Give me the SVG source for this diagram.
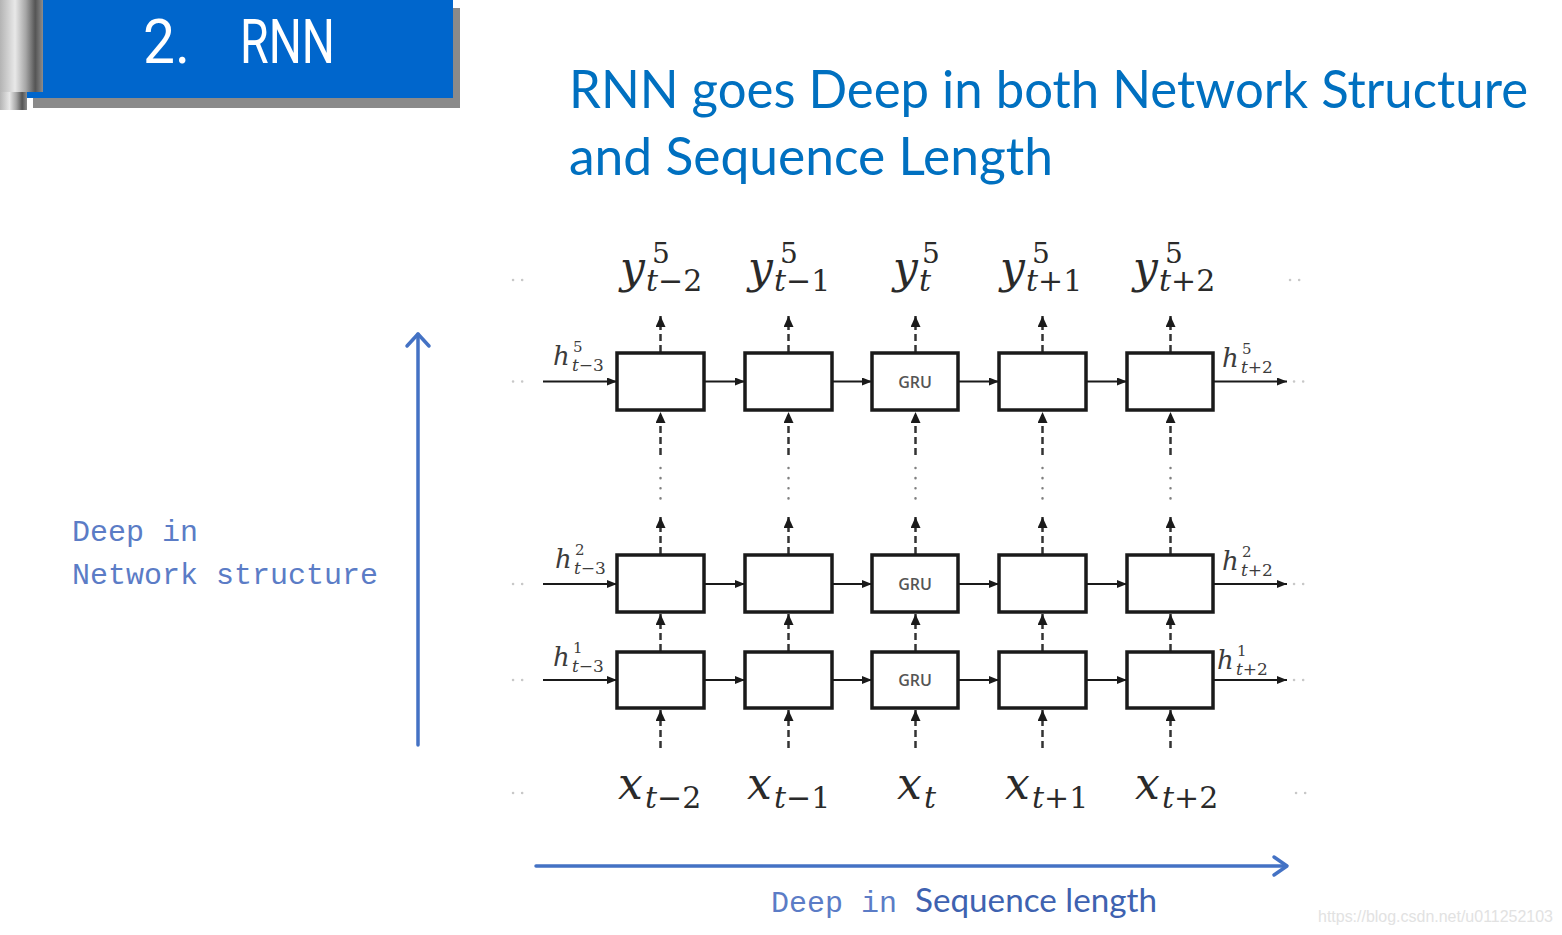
<svg xmlns="http://www.w3.org/2000/svg" width="1562" height="935" viewBox="0 0 1562 935">
<defs>
<linearGradient id="scroll" x1="0" x2="1" y1="0" y2="0">
<stop offset="0" stop-color="#b4b4b4"/>
<stop offset="0.35" stop-color="#e8e8e8"/>
<stop offset="0.6" stop-color="#a6a6a6"/>
<stop offset="0.82" stop-color="#555"/>
<stop offset="1" stop-color="#8c8c8c"/>
</linearGradient>
<marker id="ah" viewBox="0 0 10 8" refX="10" refY="4" markerWidth="10" markerHeight="8" markerUnits="userSpaceOnUse" orient="auto"><path d="M0,0 L10,4 L0,8 z" fill="#1a1a1a"/></marker>
<marker id="av" viewBox="0 0 11 10" refX="11" refY="5" markerWidth="11" markerHeight="10" markerUnits="userSpaceOnUse" orient="auto"><path d="M0,0 L11,5 L0,10 z" fill="#1a1a1a"/></marker>
</defs>
<style>
.box{fill:#fff;stroke:#1a1a1a;stroke-width:3.5}
.h{stroke:#1a1a1a;stroke-width:2;fill:none;marker-end:url(#ah)}
.v{stroke:#333;stroke-width:2.5;stroke-dasharray:7 4;fill:none;marker-end:url(#av)}
.dot{stroke:#808080;stroke-width:2.5;stroke-linecap:round;stroke-dasharray:0.1 10;fill:none}
.ell{stroke:#c8c8c8;stroke-width:2.5;stroke-linecap:round;stroke-dasharray:0.1 9;fill:none}
.m{font-family:"DejaVu Serif",serif;fill:#2a2a2a}
.hl{font-family:"DejaVu Serif",serif;fill:#3c3c3c}
.it{font-style:italic}
.gru{font-family:"Open Sans",sans-serif;font-size:16px;fill:#555;text-anchor:middle;font-weight:600}
.blue{stroke:#4472c4;stroke-width:3.5;fill:none;stroke-linecap:round;stroke-linejoin:round}
.title{font-family:Lato,"Open Sans",sans-serif;font-size:52px;fill:#0070c0}
.mono{font-family:"Liberation Mono",monospace;font-size:30px;fill:#5b7cc6}
</style>

<g id="header">
<rect x="33" y="8" width="427" height="100" fill="#8a8a8a"/>
<rect x="43" y="0" width="410" height="98" fill="#0066cc"/>
<rect x="27" y="90" width="20" height="8" fill="#0066cc"/>
<rect x="0" y="0" width="43" height="92" fill="url(#scroll)"/>
<rect x="0" y="92" width="27" height="18" fill="url(#scroll)"/>
<text x="143" y="63" font-family="Roboto,sans-serif" font-size="62" fill="#fff" textLength="47" lengthAdjust="spacingAndGlyphs">2.</text>
<text x="240" y="63" font-family="Roboto,sans-serif" font-size="62" fill="#fff" textLength="95" lengthAdjust="spacingAndGlyphs">RNN</text>
</g>

<g id="title">
<text class="title" x="569" y="108" textLength="959" lengthAdjust="spacingAndGlyphs">RNN goes Deep in both Network Structure</text>
<text class="title" x="569" y="175" textLength="484" lengthAdjust="spacingAndGlyphs">and Sequence Length</text>
</g>

<g id="axis-network">
<line class="blue" x1="418" y1="745" x2="418" y2="334"/>
<polyline class="blue" points="407,346 418,334 429,346"/>
<text class="mono" x="72" y="541">Deep in</text>
<text class="mono" x="72" y="584">Network structure</text>
</g>

<g id="axis-sequence">
<line class="blue" x1="536" y1="866" x2="1286" y2="866"/>
<polyline class="blue" points="1274,857 1287,866 1274,875"/>
<text class="mono" x="771" y="912" fill="#6f8bcc">Deep in</text>
<text x="915" y="912" font-family="Lato,'Open Sans',sans-serif" font-size="32" fill="#3e62b0" textLength="242" lengthAdjust="spacingAndGlyphs">Sequence length</text>
</g>

<g id="connectors">
<!-- horizontal row 5 -->
<line class="h" x1="543" y1="381.5" x2="617" y2="381.5"/>
<line class="h" x1="704" y1="381.5" x2="745" y2="381.5"/>
<line class="h" x1="832" y1="381.5" x2="872" y2="381.5"/>
<line class="h" x1="958" y1="381.5" x2="999" y2="381.5"/>
<line class="h" x1="1086" y1="381.5" x2="1127" y2="381.5"/>
<line class="h" x1="1213" y1="381.5" x2="1287" y2="381.5"/>
<!-- row 2 -->
<line class="h" x1="543" y1="584" x2="617" y2="584"/>
<line class="h" x1="704" y1="584" x2="745" y2="584"/>
<line class="h" x1="832" y1="584" x2="872" y2="584"/>
<line class="h" x1="958" y1="584" x2="999" y2="584"/>
<line class="h" x1="1086" y1="584" x2="1127" y2="584"/>
<line class="h" x1="1213" y1="584" x2="1287" y2="584"/>
<!-- row 1 -->
<line class="h" x1="543" y1="680" x2="617" y2="680"/>
<line class="h" x1="704" y1="680" x2="745" y2="680"/>
<line class="h" x1="832" y1="680" x2="872" y2="680"/>
<line class="h" x1="958" y1="680" x2="999" y2="680"/>
<line class="h" x1="1086" y1="680" x2="1127" y2="680"/>
<line class="h" x1="1213" y1="680" x2="1287" y2="680"/>
<!-- vertical, per column -->
<g id="vcol1">
<line class="v" x1="660.5" y1="352" x2="660.5" y2="316"/>
<line class="v" x1="660.5" y1="455" x2="660.5" y2="412"/>
<line class="dot" x1="660.5" y1="468" x2="660.5" y2="500"/>
<line class="v" x1="660.5" y1="554" x2="660.5" y2="517"/>
<line class="v" x1="660.5" y1="651" x2="660.5" y2="614"/>
<line class="v" x1="660.5" y1="748" x2="660.5" y2="710"/>
</g>
<g id="vcol2">
<line class="v" x1="788.5" y1="352" x2="788.5" y2="316"/>
<line class="v" x1="788.5" y1="455" x2="788.5" y2="412"/>
<line class="dot" x1="788.5" y1="468" x2="788.5" y2="500"/>
<line class="v" x1="788.5" y1="554" x2="788.5" y2="517"/>
<line class="v" x1="788.5" y1="651" x2="788.5" y2="614"/>
<line class="v" x1="788.5" y1="748" x2="788.5" y2="710"/>
</g>
<g id="vcol3">
<line class="v" x1="915.5" y1="352" x2="915.5" y2="316"/>
<line class="v" x1="915.5" y1="455" x2="915.5" y2="412"/>
<line class="dot" x1="915.5" y1="468" x2="915.5" y2="500"/>
<line class="v" x1="915.5" y1="554" x2="915.5" y2="517"/>
<line class="v" x1="915.5" y1="651" x2="915.5" y2="614"/>
<line class="v" x1="915.5" y1="748" x2="915.5" y2="710"/>
</g>
<g id="vcol4">
<line class="v" x1="1042.5" y1="352" x2="1042.5" y2="316"/>
<line class="v" x1="1042.5" y1="455" x2="1042.5" y2="412"/>
<line class="dot" x1="1042.5" y1="468" x2="1042.5" y2="500"/>
<line class="v" x1="1042.5" y1="554" x2="1042.5" y2="517"/>
<line class="v" x1="1042.5" y1="651" x2="1042.5" y2="614"/>
<line class="v" x1="1042.5" y1="748" x2="1042.5" y2="710"/>
</g>
<g id="vcol5">
<line class="v" x1="1170.5" y1="352" x2="1170.5" y2="316"/>
<line class="v" x1="1170.5" y1="455" x2="1170.5" y2="412"/>
<line class="dot" x1="1170.5" y1="468" x2="1170.5" y2="500"/>
<line class="v" x1="1170.5" y1="554" x2="1170.5" y2="517"/>
<line class="v" x1="1170.5" y1="651" x2="1170.5" y2="614"/>
<line class="v" x1="1170.5" y1="748" x2="1170.5" y2="710"/>
</g>
<!-- ellipses -->
<line class="ell" x1="513" y1="280" x2="531" y2="280"/>
<line class="ell" x1="513" y1="381.5" x2="531" y2="381.5"/>
<line class="ell" x1="513" y1="584" x2="531" y2="584"/>
<line class="ell" x1="513" y1="680" x2="531" y2="680"/>
<line class="ell" x1="513" y1="793" x2="531" y2="793"/>
<line class="ell" x1="1290" y1="280" x2="1308" y2="280"/>
<line class="ell" x1="1294" y1="381.5" x2="1312" y2="381.5"/>
<line class="ell" x1="1294" y1="584" x2="1312" y2="584"/>
<line class="ell" x1="1294" y1="680" x2="1312" y2="680"/>
<line class="ell" x1="1296" y1="793" x2="1314" y2="793"/>
</g>

<g id="row5">
<g id="n5-1"><rect class="box" x="617" y="353" width="87" height="57"/></g>
<g id="n5-2"><rect class="box" x="745" y="353" width="87" height="57"/></g>
<g id="n5-3"><rect class="box" x="872" y="353" width="86" height="57"/><text class="gru" x="915" y="387.5">GRU</text></g>
<g id="n5-4"><rect class="box" x="999" y="353" width="87" height="57"/></g>
<g id="n5-5"><rect class="box" x="1127" y="353" width="86" height="57"/></g>
</g>
<g id="row2">
<g id="n2-1"><rect class="box" x="617" y="555" width="87" height="57"/></g>
<g id="n2-2"><rect class="box" x="745" y="555" width="87" height="57"/></g>
<g id="n2-3"><rect class="box" x="872" y="555" width="86" height="57"/><text class="gru" x="915" y="590">GRU</text></g>
<g id="n2-4"><rect class="box" x="999" y="555" width="87" height="57"/></g>
<g id="n2-5"><rect class="box" x="1127" y="555" width="86" height="57"/></g>
</g>
<g id="row1">
<g id="n1-1"><rect class="box" x="617" y="652" width="87" height="56"/></g>
<g id="n1-2"><rect class="box" x="745" y="652" width="87" height="56"/></g>
<g id="n1-3"><rect class="box" x="872" y="652" width="86" height="56"/><text class="gru" x="915" y="686">GRU</text></g>
<g id="n1-4"><rect class="box" x="999" y="652" width="87" height="56"/></g>
<g id="n1-5"><rect class="box" x="1127" y="652" width="86" height="56"/></g>
</g>

<g id="h-labels">
<text class="hl" font-size="26"><tspan x="553" y="365" class="it">h</tspan><tspan x="573" y="352" font-size="15">5</tspan><tspan x="572" y="371" font-size="17" class="it">t</tspan><tspan font-size="17">−3</tspan></text>
<text class="hl" font-size="26"><tspan x="555" y="568" class="it">h</tspan><tspan x="575" y="555" font-size="15">2</tspan><tspan x="574" y="574" font-size="17" class="it">t</tspan><tspan font-size="17">−3</tspan></text>
<text class="hl" font-size="26"><tspan x="553" y="666" class="it">h</tspan><tspan x="573" y="653" font-size="15">1</tspan><tspan x="572" y="672" font-size="17" class="it">t</tspan><tspan font-size="17">−3</tspan></text>
<text class="hl" font-size="26"><tspan x="1222" y="367" class="it">h</tspan><tspan x="1242" y="354" font-size="15">5</tspan><tspan x="1241" y="373" font-size="17" class="it">t</tspan><tspan font-size="17">+2</tspan></text>
<text class="hl" font-size="26"><tspan x="1222" y="570" class="it">h</tspan><tspan x="1242" y="557" font-size="15">2</tspan><tspan x="1241" y="576" font-size="17" class="it">t</tspan><tspan font-size="17">+2</tspan></text>
<text class="hl" font-size="26"><tspan x="1217" y="669" class="it">h</tspan><tspan x="1237" y="656" font-size="15">1</tspan><tspan x="1236" y="675" font-size="17" class="it">t</tspan><tspan font-size="17">+2</tspan></text>
</g>

<g id="y-labels">
<text class="m" font-size="44"><tspan x="620" y="283" class="it">y</tspan><tspan x="652" y="263" font-size="28">5</tspan><tspan x="646" y="291" font-size="30" class="it">t</tspan><tspan font-size="30">−2</tspan></text>
<text class="m" font-size="44"><tspan x="748" y="283" class="it">y</tspan><tspan x="780" y="263" font-size="28">5</tspan><tspan x="774" y="291" font-size="30" class="it">t</tspan><tspan font-size="30">−1</tspan></text>
<text class="m" font-size="44"><tspan x="893" y="283" class="it">y</tspan><tspan x="922" y="263" font-size="28">5</tspan><tspan x="919" y="291" font-size="30" class="it">t</tspan></text>
<text class="m" font-size="44"><tspan x="1000" y="283" class="it">y</tspan><tspan x="1032" y="263" font-size="28">5</tspan><tspan x="1026" y="291" font-size="30" class="it">t</tspan><tspan font-size="30">+1</tspan></text>
<text class="m" font-size="44"><tspan x="1133" y="283" class="it">y</tspan><tspan x="1165" y="263" font-size="28">5</tspan><tspan x="1159" y="291" font-size="30" class="it">t</tspan><tspan font-size="30">+2</tspan></text>
</g>

<g id="x-labels">
<text class="m" font-size="44"><tspan x="618" y="799" class="it">x</tspan><tspan x="645" y="808" font-size="30" class="it">t</tspan><tspan font-size="30">−2</tspan></text>
<text class="m" font-size="44"><tspan x="747" y="799" class="it">x</tspan><tspan x="774" y="808" font-size="30" class="it">t</tspan><tspan font-size="30">−1</tspan></text>
<text class="m" font-size="44"><tspan x="897" y="799" class="it">x</tspan><tspan x="924" y="808" font-size="30" class="it">t</tspan></text>
<text class="m" font-size="44"><tspan x="1005" y="799" class="it">x</tspan><tspan x="1032" y="808" font-size="30" class="it">t</tspan><tspan font-size="30">+1</tspan></text>
<text class="m" font-size="44"><tspan x="1135" y="799" class="it">x</tspan><tspan x="1162" y="808" font-size="30" class="it">t</tspan><tspan font-size="30">+2</tspan></text>
</g>

<text x="1318" y="922" font-family="'Liberation Sans',sans-serif" font-size="16" fill="#e2e2e2" textLength="235" lengthAdjust="spacingAndGlyphs">https://blog.csdn.net/u011252103</text>
</svg>
